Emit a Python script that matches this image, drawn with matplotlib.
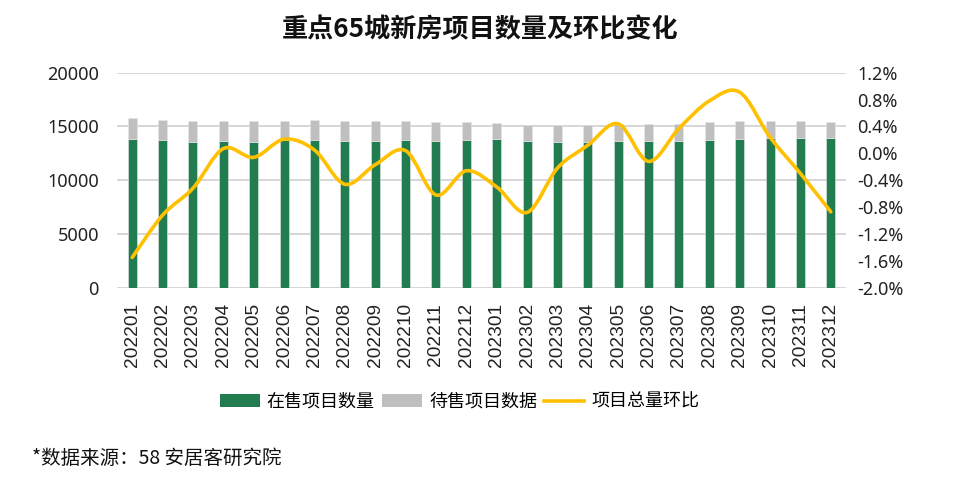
import matplotlib
matplotlib.use("Agg")
import matplotlib.pyplot as plt
from matplotlib.path import Path
from matplotlib.patches import PathPatch
from matplotlib.lines import Line2D
from matplotlib.patches import Patch
import numpy as np

months = ["202201", "202202", "202203", "202204", "202205", "202206", "202207", "202208",
          "202209", "202210", "202211", "202212", "202301", "202302", "202303", "202304",
          "202305", "202306", "202307", "202308", "202309", "202310", "202311", "202312"]
on_sale = [13800, 13700, 13560, 13650, 13560, 13740, 13700, 13650,
           13650, 13740, 13650, 13740, 13800, 13650, 13560, 13580,
           13650, 13650, 13650, 13740, 13800, 13890, 13890, 13890]
pending = [2000, 1920, 1970, 1880, 1970, 1790, 1920, 1880,
           1820, 1730, 1720, 1630, 1510, 1510, 1600, 1580,
           1570, 1570, 1570, 1630, 1670, 1640, 1580, 1480]
mom = [-1.55, -0.92, -0.52, 0.07, -0.06, 0.21, 0.05, -0.46,
       -0.17, 0.04, -0.62, -0.26, -0.50, -0.88, -0.22, 0.12,
       0.44, -0.12, 0.37, 0.78, 0.91, 0.24, -0.30, -0.87]

green = "#217D50"
grey = "#BFBFBF"
yellow = "#FFC000"
cjk = ["Noto Sans CJK SC", "DejaVu Sans"]

fig = plt.figure(figsize=(9.6, 4.95), dpi=100)
ax = fig.add_axes([117/960, 1-287.7/495, (846-117)/960, (287.7-72.7)/495])
x = np.arange(len(months))
w = 0.3
ax.bar(x, on_sale, width=w, color=green, edgecolor="#E6E6E6", linewidth=0.4, zorder=2)
ax.bar(x, pending, width=w, bottom=on_sale, color=grey, edgecolor="#E6E6E6", linewidth=0.4, zorder=2)
ax.set_xlim(-0.5, len(months) - 0.5)
ax.set_ylim(0, 20000)
ax.set_yticks(np.arange(0, 20001, 5000))
ax.grid(axis="y", color="#D6D6D6", linewidth=1.4, zorder=0)
ax.set_axisbelow(True)
for s in ax.spines.values():
    s.set_visible(False)
ax.tick_params(axis="both", length=0)
ax.tick_params(axis="y", pad=13, labelsize=13, labelcolor="#222222")
ax.set_xticks(x)
ax.set_xticklabels(months, rotation=90, fontsize=13.8, family="Liberation Sans", color="#222222")
ax.tick_params(axis="x", pad=11)
for lab in ax.get_yticklabels():
    lab.set_family("Noto Sans")

ax2 = ax.twinx()
ax2.set_ylim(-2.0, 1.2)
yt = np.round(np.arange(-2.0, 1.21, 0.4), 1)
ax2.set_yticks(yt)
ax2.set_yticklabels([f"{v:.1f}%".replace("-0.0%", "0.0%") for v in yt],
                    family="Noto Sans", fontsize=13, color="#222222")
ax2.tick_params(axis="y", length=0, pad=8)
for s in ax2.spines.values():
    s.set_visible(False)

# Excel-style smoothed line (Catmull-Rom Bezier)
P = np.column_stack([x, mom]).astype(float)
n = len(P)
verts = [tuple(P[0])]
codes = [Path.MOVETO]
for i in range(n - 1):
    p0 = P[i - 1] if i > 0 else P[i]
    p1 = P[i]
    p2 = P[i + 1]
    p3 = P[i + 2] if i + 2 < n else P[i + 1]
    c1 = p1 + (p2 - p0) / 6.0
    c2 = p2 - (p3 - p1) / 6.0
    verts += [tuple(c1), tuple(c2), tuple(p2)]
    codes += [Path.CURVE4] * 3
path = Path(verts, codes)
ax2.add_patch(PathPatch(path, facecolor="none", edgecolor=yellow, linewidth=2.6,
                        capstyle="round", joinstyle="round", zorder=3))

fig.text(0.5, 1 - 30/495, "重点65城新房项目数量及环比变化", ha="center", va="center",
         fontsize=18.8, fontweight="bold", family=cjk, color="#111111")

handles = [Patch(facecolor=green, edgecolor="none"),
           Patch(facecolor=grey, edgecolor="none"),
           Line2D([0], [0], color=yellow, linewidth=2.6)]
labels = ["在售项目数量", "待售项目数据", "项目总量环比"]
fig.legend(handles, labels, loc="center", bbox_to_anchor=(459.5/960, 1 - 402/495), ncol=3,
           frameon=False, prop={"family": cjk, "size": 13}, handlelength=2.2,
           handleheight=0.7, handletextpad=0.4, columnspacing=0.4)

fig.text(32/960, 1 - 458/495, "*数据来源：58 安居客研究院", ha="left", va="center",
         fontsize=14, family=cjk, color="#111111")

fig.savefig("out.png", dpi=100)
